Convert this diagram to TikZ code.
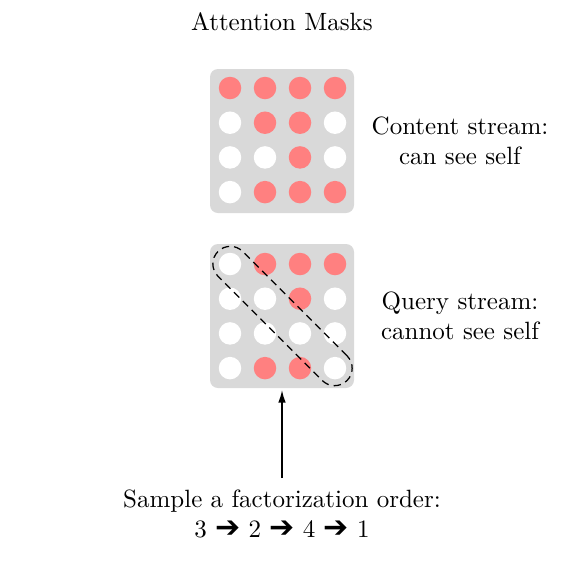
\documentclass[tikz,border=0pt]{standalone}
\usepackage{fontspec}
\newfontfamily\symfont{DejaVu Sans}
\usetikzlibrary{arrows.meta}
\definecolor{maskgrey}{HTML}{D9D9D9}
\definecolor{maskred}{HTML}{FF8080}
\newcommand{\rarr}{{\symfont\large\char"2794}}
\begin{document}
\begin{tikzpicture}[x=0.4pt,y=-0.4pt,
  panel/.style={fill=maskgrey,draw=none,rounded corners=3.2pt,minimum width=57.6pt,minimum height=57.6pt,inner sep=0pt},
  dotR/.style={circle,fill=maskred,draw=none,minimum size=9pt,inner sep=0pt},
  dotW/.style={circle,fill=white,draw=none,minimum size=9pt,inner sep=0pt},
  lbl/.style={align=center,font=\normalsize,inner sep=0pt},
  band/.style={draw,dash pattern=on 3pt off 2pt,line width=0.5pt,rounded corners=7pt,minimum width=73pt,minimum height=14pt,rotate=-45,inner sep=0pt}]
\useasboundingbox (0,0) rectangle (564,561);
\node[lbl] (title) at (282,22) {Attention Masks};
% content panel
\node[panel] (pc) at (282,141) {};
\foreach \r/\row in {1/{R,R,R,R},2/{W,R,R,W},3/{W,W,R,W},4/{W,R,R,R}}{
  \foreach \t [count=\c] in \row {
    \node[dot\t] (c-\r-\c) at ({230+35*(\c-1)},{88+34.7*(\r-1)}) {};
  }
}
% query panel
\node[panel] (pq) at (282,316) {};
\foreach \r/\row in {1/{W,R,R,R},2/{W,W,R,W},3/{W,W,W,W},4/{W,R,R,W}}{
  \foreach \t [count=\c] in \row {
    \node[dot\t] (q-\r-\c) at ({230+35*(\c-1)},{264+34.7*(\r-1)}) {};
  }
}
\node[band] (diag) at (282.5,316) {};
\node[lbl] (ct) at (460,141) {Content stream:\\can see self};
\node[lbl] (qt) at (460,316) {Query stream:\\cannot see self};
\node[lbl] (order) at (282,514) {Sample a factorization order:\\3 \rarr\ 2 \rarr\ 4 \rarr\ 1};
\coordinate (arrtip) at (282,390);
\draw[-{Latex[length=5pt,width=3pt]},line width=0.6pt] (282,478) -- (arrtip);
\end{tikzpicture}
\end{document}
